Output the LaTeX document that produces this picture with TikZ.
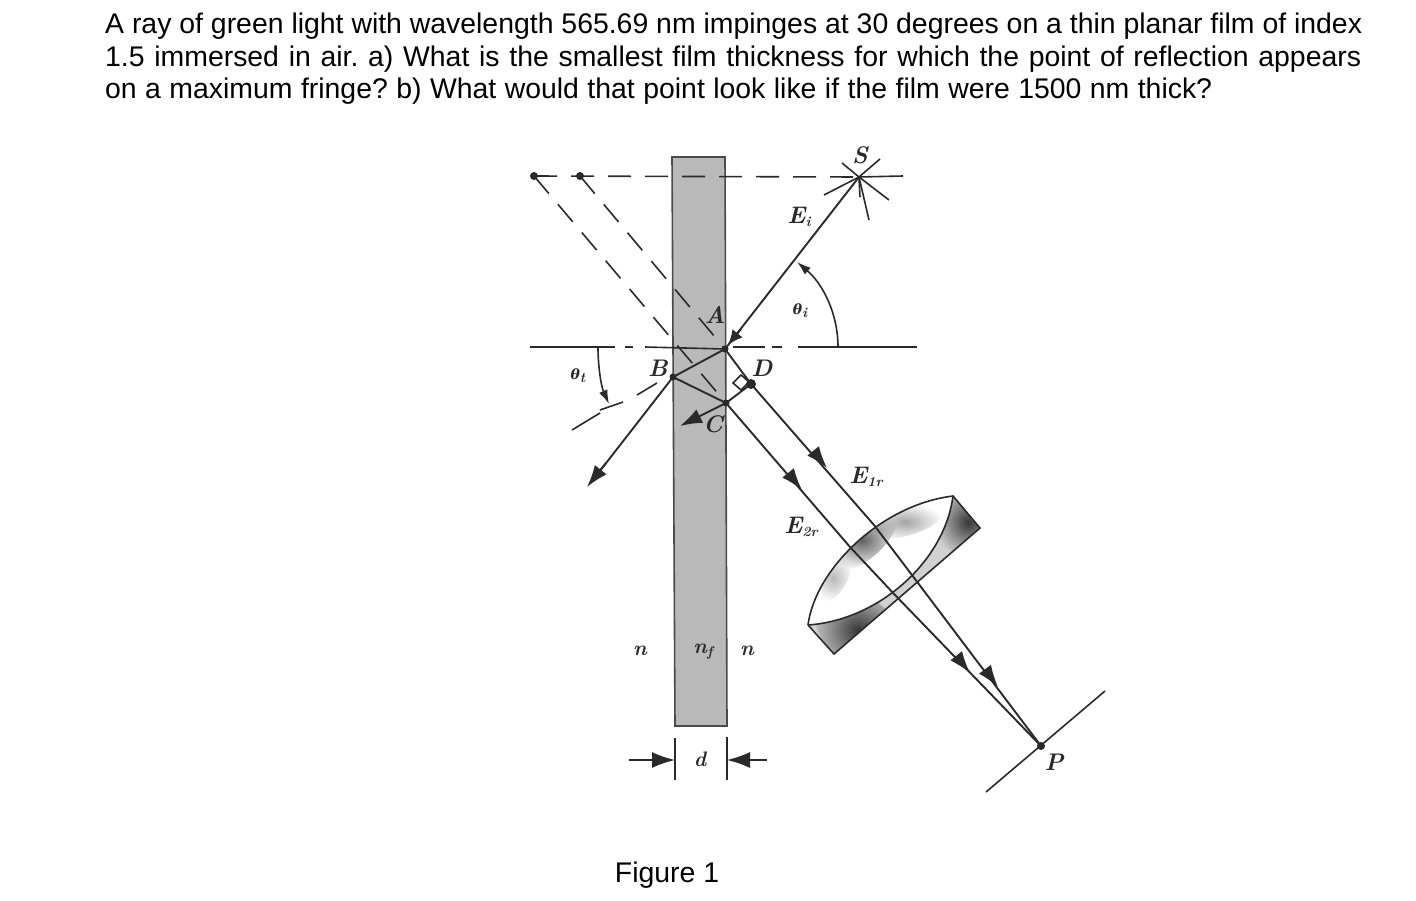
\documentclass[tikz,border=0pt]{standalone}
\usepackage{fontspec}
\setmainfont{Liberation Sans}
\newfontfamily\lmfont{Latin Modern Roman}
\newfontfamily\greekfont{DejaVu Serif}
\newcommand{\lowtxt}[1]{\raisebox{-3pt}{\fontsize{14pt}{14pt}\selectfont #1}}
\usetikzlibrary{arrows.meta}
\definecolor{ink}{HTML}{2A2A2A}
\definecolor{filmgray}{HTML}{B9B9B9}
\tikzset{
  ray/.style={draw=ink,line width=1.9pt},
  thin ray/.style={draw=ink,line width=1.6pt},
  rayarrow/.style={draw=ink,line width=1.9pt,-{Latex[length=22pt,width=15pt]}},
  incident/.style={draw=ink,line width=1.9pt,-{Latex[length=15pt,width=13pt]}},
  smallarrow/.style={draw=ink,line width=1.6pt,-{Latex[length=14pt,width=9pt]}},
  dashline/.style={draw=ink,line width=1.6pt,dash pattern=on 23pt off 14pt},
  plainline/.style={draw=ink,line width=1.6pt},
  dot/.style={circle,fill=ink,inner sep=0pt,minimum size=8pt},
  para/.style={anchor=base west,inner sep=0pt,font=\frenchspacing\fontsize{28.4pt}{32pt}\selectfont,text=black},
  lab/.style={inner sep=0pt,text=ink,font=\lmfont\bfseries\itshape\fontsize{24pt}{26pt}\selectfont},
  smalllab/.style={inner sep=0pt,text=ink,font=\lmfont\bfseries\itshape\fontsize{21pt}{23pt}\selectfont},
  greeklab/.style={inner sep=0pt,text=ink,font=\greekfont\bfseries\itshape\fontsize{14pt}{16pt}\selectfont},
}
\begin{document}
\begin{tikzpicture}[x=1pt,y=-1pt]
\useasboundingbox (0,0) rectangle (1416,900);
% text
\node[para] (t1) at (105,33) {\makebox[1257pt][s]{A ray of green light with wavelength 565.69 nm impinges at 30 degrees on a thin planar film of index}};
\node[para] (t2) at (105,66) {\makebox[1256pt][s]{1.5 immersed in air. a) What is the smallest film thickness for which the point of reflection appears}};
\node[para] (t3) at (105,98) {\makebox[1107pt][s]{on a maximum fringe? b) What would that point look like if the film were 1500 nm thick?}};
\node[para,anchor=base] (fig) at (667,882) {Figure 1};
% key points
\coordinate (S) at (859,177);
\coordinate (A) at (725,349);
\coordinate (B) at (673,377);
\coordinate (C) at (726,403);
\coordinate (D) at (751,384);
\coordinate (P) at (1041,746);
\coordinate (V1) at (534,176);
\coordinate (V2) at (580,176);
% film
\draw[fill=filmgray,draw=ink!85,line width=1.6pt] (672,157) -- (725,157) -- (727,726) -- (675,726) -- cycle;
% normal line
\coordinate (NL) at (530,347);
\coordinate (NR) at (917,347);
\draw[plainline] (NL) -- (615,347);
\draw[plainline] (625,347) -- (633,347);
\draw[plainline] (645,347) -- (A);
\draw[plainline] (733,347) -- (765,347);
\draw[plainline] (772,347) -- (782,347);
\draw[plainline] (798,347) -- (NR);
% dashed construction lines
\draw[dashline] (V1) -- (S);
\draw[dashline] (V1) -- (C);
\draw[dashline] (V2) -- (A);
\node[dot] (d1) at (V1) {};
\node[dot] (d2) at (V2) {};
% dashed normal to B
\draw[plainline] (657,383) -- (637,395);
\draw[plainline] (600,413) -- (572,430);
\draw[plainline] (600,410) -- (623,402);
% star S
\foreach \p in {(903,176),(880,159),(842,163),(824,195),(869,220),(889,200),(860,197)}
  \draw[thin ray] (S) -- \p;
% rays
\draw[ray] (S) -- (A);
\draw[incident] (741,329) -- (728,345);
\draw[ray] (A) -- (B);
\draw[ray] (B) -- (C);
\draw[ray] (B) -- (596,476);
\draw[rayarrow] (606,463) -- (587,487);
\draw[rayarrow] (C) -- (680,426);
\draw[ray] (C) -- (D);
% right-angle mark
\draw[thin ray,fill=white] (733,383) -- (741,390) -- (749,382) -- (741,375) -- cycle;
% lens
\begin{scope}
  \path[clip] (808,625) .. controls (815,570) and (880,505) .. (953,496) -- (980,528) -- (834,654) -- cycle;
  \fill[white] (790,480) rectangle (1000,670);
  \begin{scope}[blend mode=multiply]
  \shade[inner color=black!62,outer color=white,rotate around={40:(862,540)}] (862,540) ellipse (42pt and 20pt);
  \shade[inner color=black!36,outer color=white,rotate around={15:(905,522)}] (905,522) ellipse (38pt and 14pt);
  \shade[inner color=black!28,outer color=white,rotate around={60:(833,578)}] (833,578) ellipse (28pt and 14pt);
  \end{scope}
\end{scope}
\begin{scope}
  \path[clip] (808,625) .. controls (880,620) and (945,560) .. (953,496) -- (980,528) -- (834,654) -- cycle;
  \fill[black!18] (790,480) rectangle (1000,670);
  \shade[inner color=black!78,outer color=black!18,rotate around={-40:(858,630)}] (858,630) ellipse (48pt and 34pt);
  \shade[inner color=black!78,outer color=black!18] (968,522) ellipse (34pt and 36pt);
\end{scope}
\draw[thin ray] (808,625) .. controls (815,570) and (880,505) .. (953,496) -- (980,528) -- (834,654) -- (808,625);
\draw[thin ray] (808,625) .. controls (880,620) and (945,560) .. (953,496);
% reflected rays
\coordinate (L1a) at (874,525);
\coordinate (L1b) at (918,583);
\coordinate (L2a) at (850,547);
\coordinate (L2b) at (895,595);
\draw[ray] (A) -- (D) -- (L1a) -- (L1b) -- (P);
\draw[ray] (C) -- (L2a) -- (L2b) -- (P);
\draw[rayarrow] (814,452) -- (827,468);
\draw[rayarrow] (789,474) -- (802,490);
\draw[rayarrow] (958,658) -- (970,673);
\draw[rayarrow] (987,672) -- (998,687);
\node[dot,minimum size=10pt] (dD) at (D) {};
\fill[ink] (A) circle (3.5pt);
\fill[ink] (B) circle (3.5pt);
\fill[ink] (C) circle (3.5pt);
% screen
\coordinate (SL) at (986,792);
\coordinate (SR) at (1105,691);
\draw[thin ray] (SL) -- (SR);
\node[dot] (dP) at (P) {};
% angle arcs
\draw[smallarrow] (838,347) .. controls (838,314) and (823,284) .. (797,262);
\draw[smallarrow] (598,347) .. controls (598,366) and (601,386) .. (609,404);
% thickness marks
\coordinate (dL) at (675,738);
\coordinate (dR) at (727,737);
\draw[plainline] (dL) -- (675,780);
\draw[plainline] (dR) -- (727,780);
\draw[plainline,-{Latex[length=23pt,width=16pt]}] (629,760) -- (675,760);
\draw[plainline,-{Latex[length=23pt,width=16pt]}] (767,760) -- (727,760);
% labels
\node[lab] (lS) at (860,155) {S};
\node[lab] (lEi) at (799,217) {E\lowtxt{i}};
\node[lab] (lA) at (715,315) {A};
\node[lab] (lB) at (658,368) {B};
\node[lab] (lC) at (713,424) {C};
\node[lab] (lD) at (762,368) {D};
\node[greeklab] (lti) at (800,311) {θ\lowtxt{\lmfont i}};
\node[greeklab] (ltt) at (578,376) {θ\lowtxt{\lmfont t}};
\node[lab] (lEa) at (866,477) {E\lowtxt{1r}};
\node[lab] (lEb) at (801,527) {E\lowtxt{2r}};
\node[lab] (lP) at (1054,762) {P};
\node[smalllab] (lna) at (640,651) {n};
\node[smalllab] (lnf) at (703,652) {n\lowtxt{f}};
\node[smalllab] (lnb) at (747,651) {n};
\node[smalllab] (ld) at (700,759) {d};
\end{tikzpicture}
\end{document}
